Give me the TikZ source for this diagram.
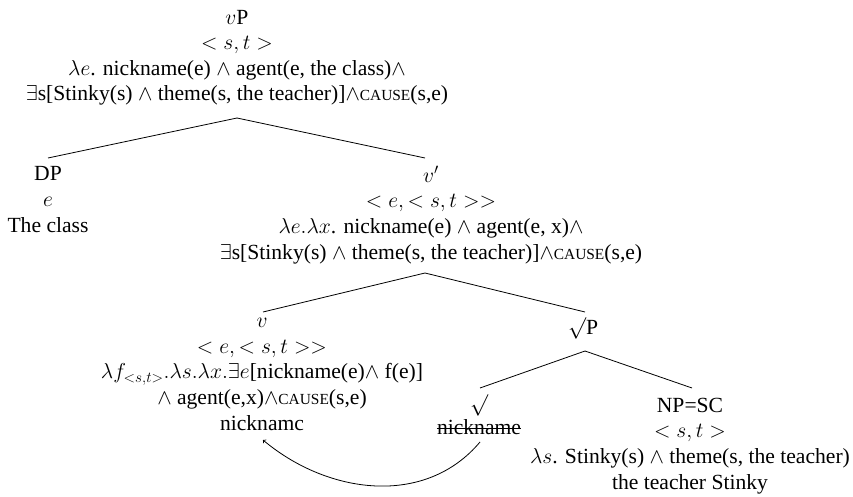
\documentclass[tikz,border=0pt]{standalone}
\usepackage{fix-cm}
\usepackage{fontspec}
\setmainfont{Liberation Serif}
\newcommand{\smcause}{{\fontsize{15.4}{25}\selectfont CAUSE}}
\begin{document}
\begin{tikzpicture}[x=1pt,y=-1pt,
  lab/.style={align=center,inner sep=0pt,anchor=base,font=\fontsize{21.6}{25.6}\selectfont},
  br/.style={line width=0.8pt}]
\useasboundingbox (0,0) rectangle (853,497);
\node[lab] (vP) at (237,101) {$v$P\\$<s,t>$\\$\lambda e$. nickname(e) $\wedge$ agent(e, the class)$\wedge$\\$\exists$s[Stinky(s) $\wedge$ theme(s, the teacher)]$\wedge$\smcause(s,e)};
\node[lab] (DP) at (48,232) {DP\\$e$\\The class};
\node[lab] (vbar) at (431,259) {$v'$\\$<e,<s,t>>$\\$\lambda e.\lambda x$. nickname(e) $\wedge$ agent(e, x)$\wedge$\\$\exists$s[Stinky(s) $\wedge$ theme(s, the teacher)]$\wedge$\smcause(s,e)};
\node[lab] (v) at (262,430) {$v$\\$<e,<s,t>>$\\$\lambda f_{<s,t>}.\lambda s.\lambda x.\exists e$[nickname(e)$\wedge$ f(e)]\\$\wedge$ agent(e,x)$\wedge$\smcause(s,e)\\nicknamc};
\node[lab] (rootP) at (583,334) {$\surd$P};
\node[lab] (root) at (479,411) {$\surd$};
\node[lab] (rootw) at (479,434) {nickname};
\draw[line width=0.8pt] ([yshift=5.5pt]rootw.base west) -- ([yshift=5.5pt]rootw.base east);
\node[lab] (NP) at (690,489) {NP=SC\\$<s,t>$\\$\lambda s$. Stinky(s) $\wedge$ theme(s, the teacher)\\the teacher Stinky};
% branch points (apexes below mothers, tops above daughters)
\coordinate (aVP) at (237,118);
\coordinate (aVbar) at (425,273);
\coordinate (aRootP) at (585,351);
\coordinate (tDP) at (48,158);
\coordinate (tVbar) at (425,158);
\coordinate (tV) at (263,312);
\coordinate (tRootP) at (585,312);
\coordinate (tRoot) at (480,388);
\coordinate (tNP) at (692,388);
\coordinate (sTrace) at (480,442);
\coordinate (eTrace) at (263,440);
\draw[br] (aVP) -- (tDP);
\draw[br] (aVP) -- (tVbar);
\draw[br] (aVbar) -- (tV);
\draw[br] (aVbar) -- (tRootP);
\draw[br] (aRootP) -- (tRoot);
\draw[br] (aRootP) -- (tNP);
\draw[br,->] (sTrace) to[out=-130,in=-40] (eTrace);
\end{tikzpicture}
\end{document}
